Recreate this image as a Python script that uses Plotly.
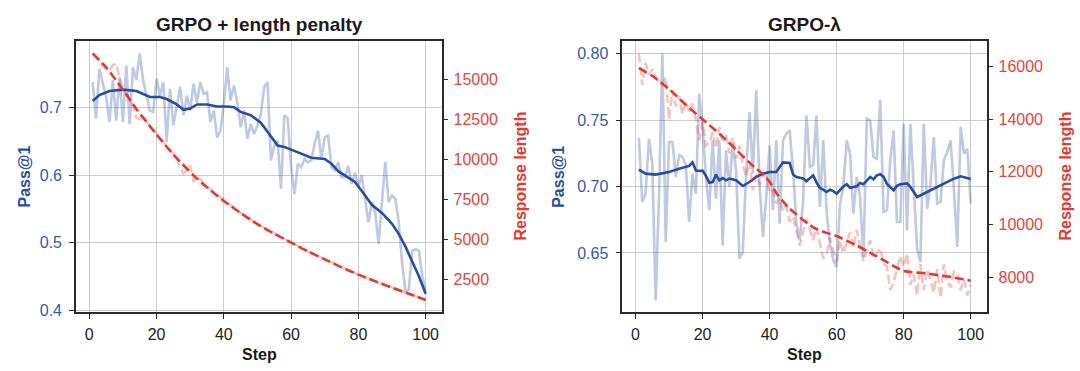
import plotly.graph_objects as go

# ---------------- data ----------------
steps = list(range(1, 101))

# Left panel: GRPO + length penalty
left_pass_raw = [
    0.738, 0.684, 0.758, 0.736, 0.716, 0.679, 0.741, 0.681, 0.746, 0.679,
    0.763, 0.676, 0.760, 0.741, 0.781, 0.741, 0.716, 0.696, 0.694, 0.743,
    0.718, 0.738, 0.649, 0.728, 0.674, 0.701, 0.731, 0.689, 0.718, 0.696,
    0.736, 0.708, 0.738, 0.721, 0.723, 0.679, 0.696, 0.656, 0.666, 0.706,
    0.760, 0.711, 0.733, 0.708, 0.671, 0.696, 0.654, 0.676, 0.661, 0.674,
    0.691, 0.731, 0.738, 0.622, 0.644, 0.651, 0.580, 0.689, 0.684, 0.612,
    0.572, 0.617, 0.612, 0.624, 0.619, 0.622, 0.647, 0.666, 0.624, 0.656,
    0.659, 0.612, 0.607, 0.619, 0.597, 0.597, 0.614, 0.587, 0.604, 0.582,
    0.600, 0.565, 0.530, 0.560, 0.545, 0.498, 0.560, 0.620, 0.560, 0.570,
    0.565, 0.530, 0.470, 0.428, 0.430, 0.488, 0.490, 0.488, 0.450, 0.428,
]
left_pass_smooth_steps = [1, 3, 6, 10, 14, 18, 21, 23, 26, 28, 30, 32, 35, 38, 41, 43,
                          45, 48, 51, 54, 56, 58, 60, 63, 66, 70, 72, 74, 77, 79, 82,
                          84, 87, 90, 92, 94, 96, 98, 100]
left_pass_smooth = [0.710, 0.719, 0.725, 0.727, 0.725, 0.716, 0.716, 0.713, 0.705, 0.697,
                    0.699, 0.705, 0.705, 0.702, 0.702, 0.701, 0.694, 0.689, 0.678, 0.657,
                    0.644, 0.642, 0.638, 0.632, 0.626, 0.624, 0.617, 0.606, 0.596, 0.590,
                    0.570, 0.556, 0.544, 0.528, 0.513, 0.494, 0.472, 0.450, 0.424]
left_len_raw_steps = list(range(1, 36)) + [40, 45, 50, 55, 60, 65, 70, 75, 80, 85, 90, 95, 100]
left_len_raw = [16620, 16350, 16100, 15850, 15650, 15500, 15900, 16000, 15100, 14400,
                14100, 13800, 13300, 12600, 12500, 12700, 12400, 12100, 11850, 11600,
                11350, 11100, 10850, 10600, 10350, 10100, 9500, 9100, 9300, 9600,
                8600, 8900, 8750, 8450, 8300,
                7450, 6650, 5950, 5350, 4800, 4250, 3750, 3250, 2800, 2380, 1980, 1600, 1215]
left_len_smooth_steps = [1, 5, 10, 14, 20, 25, 31, 35, 40, 45, 50, 55, 60, 65, 70, 75,
                         80, 85, 90, 95, 100]
left_len_smooth = [16620, 15750, 14350, 13150, 11550, 10300, 9000, 8250, 7400, 6650,
                   5950, 5350, 4800, 4250, 3750, 3250, 2800, 2380, 1980, 1600, 1215]

# Right panel: GRPO-lambda
right_pass_raw = [
    0.7368, 0.6884, 0.6946, 0.7360, 0.7172, 0.6143, 0.6921, 0.8005, 0.6583, 0.7335,
    0.7335, 0.7072, 0.7235, 0.7222, 0.7160, 0.6733, 0.7097, 0.6946, 0.7700, 0.7448,
    0.7072, 0.6821, 0.7348, 0.6909, 0.7348, 0.6557, 0.7272, 0.6997, 0.7323, 0.7122,
    0.6457, 0.6507, 0.7097, 0.7561, 0.7097, 0.7724, 0.7009, 0.6620, 0.6921, 0.7310,
    0.6821, 0.7348, 0.6720, 0.7348, 0.7398, 0.7423, 0.7122, 0.6720, 0.6595, 0.6896,
    0.7536, 0.7147, 0.7160, 0.7536, 0.6846, 0.7348, 0.6808, 0.6570, 0.6444, 0.6394,
    0.6871, 0.6997, 0.7348, 0.7247, 0.6796, 0.7072, 0.6921, 0.6470, 0.7511, 0.7498,
    0.7222, 0.7210, 0.7649, 0.6808, 0.6821, 0.7197, 0.7423, 0.6733, 0.6733, 0.7473,
    0.6670, 0.7473, 0.6997, 0.6532, 0.6432, 0.7473, 0.6833, 0.7022, 0.7373, 0.6871,
    0.6884, 0.7197, 0.7260, 0.7348, 0.6971, 0.6545, 0.7448, 0.7247, 0.7285, 0.6871,
]
right_pass_smooth_steps = [1, 3, 6, 10, 13, 16, 17, 18, 19, 20, 21, 22, 23, 24, 25, 26, 27,
                           28, 30, 31, 32, 34, 36, 38, 40, 42, 43, 44, 46, 47, 48, 50,
                           51, 52, 53, 54, 55, 56, 57, 58, 59, 60, 61, 62, 63, 64, 66,
                           67, 68, 70, 71, 72, 73, 74, 75, 77, 78, 79, 81, 82, 84, 86,
                           89, 92, 95, 97, 100]
right_pass_smooth = [0.7127, 0.7097, 0.7090, 0.7110, 0.7134, 0.7155, 0.7182, 0.7120,
                     0.7117, 0.7120, 0.7080, 0.7029, 0.7034, 0.7090, 0.7047, 0.7064,
                     0.7047, 0.7060, 0.7047, 0.7027, 0.7004, 0.7034, 0.7072, 0.7097,
                     0.7109, 0.7109, 0.7150, 0.7182, 0.7177, 0.7090, 0.7072, 0.7060,
                     0.7040, 0.7060, 0.7084, 0.7030, 0.6990, 0.6976, 0.6959, 0.6976,
                     0.6965, 0.6946, 0.6971, 0.7000, 0.7017, 0.6991, 0.7001, 0.7027,
                     0.7017, 0.7072, 0.7054, 0.7084, 0.7092, 0.7072, 0.7020, 0.6971,
                     0.7005, 0.7017, 0.7024, 0.6997, 0.6921, 0.6946, 0.6981, 0.7022,
                     0.7059, 0.7077, 0.7057]
right_len_raw = [
    16500, 15300, 16150, 15700, 15900, 15600, 15450, 15300, 15600, 14000,
    15100, 14500, 14900, 14200, 14700, 14300, 14600, 14000, 13200, 13900,
    13000, 13100, 13500, 12900, 13700, 13200, 13400, 12700, 13300, 12500,
    13000, 12300, 11800, 12400, 11300, 11900, 11500, 11900, 11800, 11200,
    11300, 10800, 11000, 10500, 10700, 10100, 10300, 9700, 9200, 9700,
    10200, 9800, 9400, 9900, 9300, 8700, 8900, 9500, 9000, 8600,
    9400, 8900, 9300, 9700, 9100, 9800, 9200, 8600, 9000, 9400,
    8700, 8900, 9100, 8500, 8400, 7500, 7800, 8300, 8800, 8400,
    8900, 7700, 8100, 7300, 8500, 7500, 8300, 7900, 7400, 8300,
    7200, 8500, 7800, 7600, 8200, 8100, 7500, 7900, 7300, 7700,
]
right_len_smooth_steps = [1, 5, 10, 15, 20, 25, 30, 34, 38, 40, 42, 44, 46, 48, 50, 52,
                          54, 57, 60, 63, 66, 70, 74, 77, 80, 85, 90, 95, 100]
right_len_smooth = [15950, 15650, 15150, 14550, 14000, 13450, 12850, 12350, 11900, 11620,
                    11200, 10880, 10600, 10380, 10170, 9980, 9820, 9680, 9560, 9380,
                    9200, 8920, 8640, 8420, 8230, 8160, 8080, 7980, 7860]

x_ticks = [0, 20, 40, 60, 80, 100]
left_pass_ticks = [0.4, 0.5, 0.6, 0.7]
left_len_ticks = [2500, 5000, 7500, 10000, 12500, 15000]
right_pass_ticks = [0.65, 0.70, 0.75, 0.80]
right_len_ticks = [8000, 10000, 12000, 14000, 16000]

titles = ["GRPO + length penalty", "GRPO-λ"]

# ---------------- style ----------------
W, H = 1080, 371
FONT = "Liberation Sans, Arial, Helvetica, sans-serif"
BLUE = "#2b4d9e"
BLUE_T = "#3659aa"
RED = "#df3b31"
RED_T = "#e4453b"
GRID = "#cdcdcd"
FRAME = "#2a2a2a"


def px(x):
    return x / W


def py(y):
    return 1 - y / H


panels = [
    dict(x0=76.0, x1=442.3, y0=40.7, y1=312.3),
    dict(x0=622.3, x1=987.3, y0=40.7, y1=312.3),
]

fig = go.Figure()


def add_panel(xa, ya, ya2, pass_raw, ps_steps, ps_vals, lr_steps, lr_vals, ls_steps, ls_vals):
    fig.add_trace(go.Scatter(x=steps, y=pass_raw, xaxis=xa, yaxis=ya, mode="lines",
                             line=dict(color=BLUE, width=2.6), opacity=0.3,
                             hoverinfo="skip", showlegend=False))
    fig.add_trace(go.Scatter(x=ps_steps, y=ps_vals, xaxis=xa, yaxis=ya, mode="lines",
                             line=dict(color=BLUE, width=2.6),
                             hoverinfo="skip", showlegend=False))
    fig.add_trace(go.Scatter(x=lr_steps, y=lr_vals, xaxis=xa, yaxis=ya2, mode="lines",
                             line=dict(color=RED, width=2.6, dash="9px,4px"), opacity=0.3,
                             hoverinfo="skip", showlegend=False))
    fig.add_trace(go.Scatter(x=ls_steps, y=ls_vals, xaxis=xa, yaxis=ya2, mode="lines",
                             line=dict(color=RED, width=2.6, dash="9px,4px", shape="spline",
                                       smoothing=0.8),
                             hoverinfo="skip", showlegend=False))


add_panel("x", "y", "y2", left_pass_raw, left_pass_smooth_steps, left_pass_smooth,
          left_len_raw_steps, left_len_raw, left_len_smooth_steps, left_len_smooth)
add_panel("x2", "y3", "y4", right_pass_raw, right_pass_smooth_steps, right_pass_smooth,
          steps, right_len_raw, right_len_smooth_steps, right_len_smooth)

tick_common = dict(ticks="outside", ticklen=5, tickwidth=1.3, tickcolor=FRAME,
                   zeroline=False, automargin=False)


def xaxis_cfg(p, anchor):
    return dict(domain=[px(p["x0"]), px(p["x1"])], range=[-3.95, 104.95], anchor=anchor,
                tickvals=x_ticks, showline=True, linecolor=FRAME, linewidth=1.6,
                mirror=True, showgrid=True, gridcolor=GRID, gridwidth=1.2,
                tickfont=dict(family=FONT, size=16, color="#222222"),
                ticklabelstandoff=2, **tick_common)


def yaxis_cfg(p, anchor, rng, tv, fmt):
    return dict(domain=[py(p["y1"]), py(p["y0"])], range=rng, anchor=anchor,
                tickvals=tv, tickformat=fmt, showline=True, linecolor=FRAME,
                linewidth=1.6, mirror=True, showgrid=True, gridcolor=GRID, gridwidth=1.2,
                tickfont=dict(family=FONT, size=16, color=BLUE_T),
                ticklabelstandoff=4, **tick_common)


def yaxis2_cfg(over, anchor, rng, tv):
    return dict(overlaying=over, side="right", anchor=anchor, range=rng, tickvals=tv,
                tickformat="d", showline=False, showgrid=False,
                tickfont=dict(family=FONT, size=16, color=RED_T),
                ticklabelstandoff=2, **tick_common)


fig.update_layout(
    width=W, height=H,
    margin=dict(l=0, r=0, t=0, b=0, pad=0),
    paper_bgcolor="white", plot_bgcolor="white",
    showlegend=False,
    xaxis=xaxis_cfg(panels[0], "y"),
    yaxis=yaxis_cfg(panels[0], "x", [0.3966, 0.7996], left_pass_ticks, ".1f"),
    yaxis2=yaxis2_cfg("y", "x", [444, 17411], left_len_ticks),
    xaxis2=xaxis_cfg(panels[1], "y3"),
    yaxis3=yaxis_cfg(panels[1], "x2", [0.6053, 0.8098], right_pass_ticks, ".2f"),
    yaxis4=yaxis2_cfg("y3", "x2", [6658, 16990], right_len_ticks),
)

annotations = []
for p, t, lx, rx in zip(panels, titles, [24.0, 558.3], [520.0, 1065.0]):
    cx = (p["x0"] + p["x1"]) / 2
    annotations.append(dict(x=px(cx), y=py(25), xref="paper", yref="paper", text="<b>%s</b>" % t,
                            showarrow=False, xanchor="center", yanchor="middle",
                            font=dict(family=FONT, size=19, color="#1a1a1a")))
    annotations.append(dict(x=px(cx), y=py(354), xref="paper", yref="paper", text="<b>Step</b>",
                            showarrow=False, xanchor="center", yanchor="middle",
                            font=dict(family=FONT, size=16, color="#1a1a1a")))
    cy = (p["y0"] + p["y1"]) / 2
    annotations.append(dict(x=px(lx), y=py(cy), xref="paper", yref="paper", text="<b>Pass@1</b>",
                            showarrow=False, xanchor="center", yanchor="middle", textangle=-90,
                            font=dict(family=FONT, size=16, color=BLUE)))
    annotations.append(dict(x=px(rx), y=py(cy), xref="paper", yref="paper",
                            text="<b>Response length</b>",
                            showarrow=False, xanchor="center", yanchor="middle", textangle=-90,
                            font=dict(family=FONT, size=16, color=RED)))
fig.update_layout(annotations=annotations)

fig.write_html("out.html",
               config={"displayModeBar": False},
               post_script="document.body.style.margin='0';document.body.style.overflow='hidden';")
